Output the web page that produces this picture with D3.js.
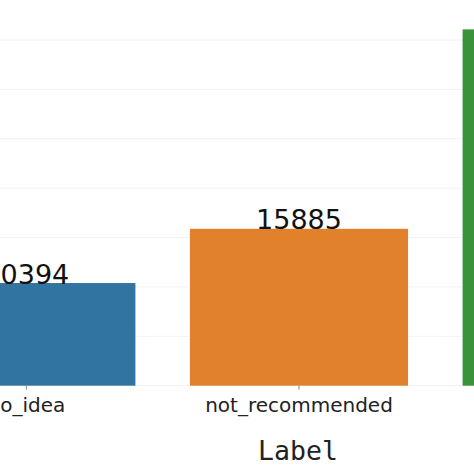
<!DOCTYPE html>
<html><head><meta charset="utf-8">
<script src="https://cdn.jsdelivr.net/npm/d3@7"></script>
<style>html,body{margin:0;padding:0;background:#fff;overflow:hidden}</style>
</head><body>
<svg id="c" width="474" height="474"></svg>
<script>
const categories = ["no_idea", "not_recommended", "recommended"];
const values = [10394, 15885, 36073];
const colors = ["#3274a1", "#e1812c", "#3a923a"];
const yTicks = [0, 5000, 10000, 15000, 20000, 25000, 30000, 35000];
const xTitle = "Label";

const svg = d3.select("#c");
const x = d3.scaleBand().domain(categories).range([-110, 708]).paddingInner(0.2).paddingOuter(0.1);
const y = d3.scaleLinear().domain([0, 35000]).range([385.7, 40]);

svg.append("g").selectAll("line").data(yTicks).join("line")
  .attr("x1", -200).attr("x2", 700)
  .attr("y1", d => y(d)).attr("y2", d => y(d))
  .attr("stroke", "#f2f2f2").attr("stroke-width", 1);

svg.append("g").selectAll("rect").data(values).join("rect")
  .attr("x", (d, i) => x(categories[i]))
  .attr("width", x.bandwidth())
  .attr("y", d => y(d))
  .attr("height", d => y(0) - y(d))
  .attr("fill", (d, i) => colors[i]);

const xAxis = d3.axisBottom(x).tickSize(4).tickPadding(8);
const gx = svg.append("g").attr("transform", `translate(0,${y(0)})`).call(xAxis);
gx.select(".domain").remove();
gx.selectAll(".tick line").attr("stroke", "#888");
gx.selectAll(".tick text").attr("font-family", "DejaVu Sans").attr("font-size", 20).attr("fill", "#222").attr("dy", "0.71em");

svg.append("g").selectAll("text").data(values).join("text")
  .attr("x", (d, i) => x(categories[i]) + x.bandwidth() / 2)
  .attr("y", d => y(d) + 0.5)
  .attr("text-anchor", "middle")
  .attr("font-family", "DejaVu Sans").attr("font-size", 27).attr("fill", "#111")
  .text(d => d);

svg.append("text").attr("x", 298).attr("y", 460).attr("text-anchor", "middle")
  .attr("font-family", "DejaVu Sans Mono").attr("font-size", 26.5).attr("fill", "#222")
  .text(xTitle);
</script>
</body></html>
